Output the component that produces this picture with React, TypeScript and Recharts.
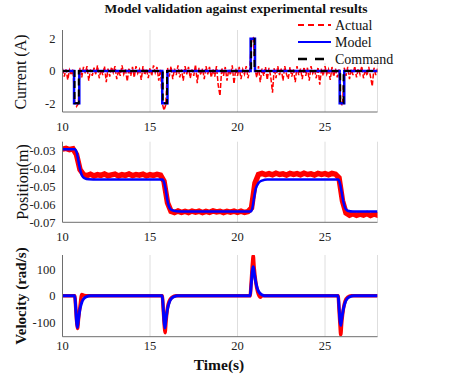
import { LineChart, Line, XAxis, YAxis, CartesianGrid } from "recharts";

const FONT = "'Liberation Serif', 'Times New Roman', serif";

const timeTicks = [10, 15, 20, 25];
const currentTicks = [-2, 0, 2];
const positionTicks = [-0.07, -0.06, -0.05, -0.04, -0.03];
const velocityTicks = [-100, 0, 100];

// measured current, one sample every 0.1 s starting at 10 s
const currentActual = [
  0.15, -0.35, 0.1, -0.55, 0.05, -0.25, 0.1, -1.95, -2.2, -2.05,
  0.2, -0.4, 0.25, -0.15, 0.3, -0.6, 0.1, -0.3, 0.2, -0.2,
  0.35, -0.45, 0.1, -0.25, 0.3, -0.7, 0.15, -0.35, 0.25, -0.1,
  0.3, -0.5, 0.05, -0.3, 0.35, -0.2, 0.1, -0.65, 0.2, -0.3,
  0.25, -0.4, 0.3, -0.15, 0.1, -0.55, 0.3, -0.25, 0.15, -0.45,
  0.2, -0.3, 0.35, -0.1, 0.25, -0.6, 0.1, -2.0, -2.45, -2.1,
  0.2, -0.35, 0.3, -0.5, 0.15, -0.25, 0.35, -0.4, 0.1, -0.6,
  0.3, -0.2, 0.25, -0.45, 0.1, -0.3, 0.4, -0.75, 0.2, -0.25,
  0.15, -0.5, 0.3, -0.2, 0.25, -0.4, 0.1, -0.35, 0.3, -0.9,
  -1.55, 0.2, -0.3, 0.25, -0.6, 0.1, -0.25, 0.35, -0.8, 0.15,
  -0.3, 0.25, -0.5, 0.1, -0.2, 0.3, -0.45, 0.1, 1.95, 2.05,
  0.1, -0.4, 0.3, -0.7, 0.15, -0.3, 0.25, -0.55, 0.2, -0.35,
  -1.35, 0.2, -0.45, 0.3, -0.25, 0.15, -0.6, 0.3, -0.2, -0.5,
  0.25, -0.35, 0.1, -0.7, 0.3, -0.25, 0.15, -0.5, 0.25, -0.3,
  0.2, -0.6, 0.3, -0.15, 0.1, -0.45, 0.25, -0.85, 0.15, -0.3,
  0.3, -0.2, 0.1, -0.55, 0.25, -0.35, 0.15, -0.4, 0.1, -2.0,
  -2.15, 0.2, -0.3, 0.25, -0.5, 0.1, -0.25, 0.3, -0.4, 0.15,
  -0.2, 0.3, -0.45, 0.1, -0.3, 0.25, -0.35, -0.95, 0.2, -0.25,
  0.15, -0.3, 0.1,
];

const currentModel: [number, number][] = [
  [10, 0], [10.66, 0], [10.66, -2], [10.96, -2], [10.96, 0],
  [15.7, 0], [15.7, -2], [16.0, -2], [16.0, 0],
  [20.75, 0], [20.75, 2], [21.0, 2], [21.0, 0],
  [25.84, 0], [25.84, -2], [26.1, -2], [26.1, 0], [28, 0],
];

const currentCommand: [number, number][] = [
  [10, 0], [10.69, 0], [10.69, -2], [10.93, -2], [10.93, 0],
  [15.73, 0], [15.73, -2], [15.97, -2], [15.97, 0],
  [20.78, 0], [20.78, 2], [20.97, 2], [20.97, 0],
  [25.87, 0], [25.87, -2], [26.06, -2], [26.06, 0], [28, 0],
];

// measured position, one sample every 0.2 s starting at 10 s
const positionActual = [
  -0.029, -0.0285, -0.0292, -0.0288, -0.032,
  -0.0405, -0.0432, -0.0438, -0.043, -0.044,
  -0.0433, -0.0437, -0.0429, -0.0439, -0.0434,
  -0.043, -0.044, -0.0433, -0.0437, -0.0429,
  -0.0438, -0.0432, -0.0436, -0.043, -0.0439,
  -0.0433, -0.0437, -0.0431, -0.0436, -0.047,
  -0.059, -0.0638, -0.0645, -0.0637, -0.0644,
  -0.0639, -0.0645, -0.0637, -0.0643, -0.0638,
  -0.0646, -0.0639, -0.0644, -0.0636, -0.0642,
  -0.0638, -0.0645, -0.0639, -0.0643, -0.0637,
  -0.0644, -0.0638, -0.0645, -0.064, -0.062,
  -0.048, -0.0432, -0.0426, -0.0433, -0.0427,
  -0.0434, -0.0425, -0.0432, -0.0428, -0.0435,
  -0.0426, -0.0431, -0.0427, -0.0434, -0.0425,
  -0.0432, -0.0428, -0.0435, -0.0426, -0.0431,
  -0.0427, -0.0434, -0.0426, -0.043, -0.045,
  -0.058, -0.0648, -0.066, -0.0652, -0.0661,
  -0.0654, -0.0659, -0.0651, -0.0662, -0.0653,
  -0.066, -0.0655,
];

const positionModel: [number, number][] = [
  [10, -0.029], [10.7, -0.029], [10.8, -0.0305], [10.9, -0.035], [11.0, -0.04],
  [11.1, -0.0435], [11.25, -0.0452], [11.5, -0.0459], [12, -0.046],
  [15.7, -0.046], [15.8, -0.0475], [15.9, -0.052], [16.0, -0.058], [16.1, -0.0615],
  [16.25, -0.0632], [16.5, -0.0638], [17, -0.064],
  [20.75, -0.064], [20.85, -0.062], [20.95, -0.056], [21.05, -0.051], [21.2, -0.048],
  [21.4, -0.0466], [21.7, -0.046],
  [25.75, -0.046], [25.85, -0.048], [25.95, -0.053], [26.05, -0.0585], [26.15, -0.062],
  [26.3, -0.0635], [26.6, -0.064], [28, -0.064],
];

const velocityActual: [number, number][] = [
  [10, 0], [10.7, 0], [10.76, -50], [10.82, -105], [10.86, -124], [10.92, -85],
  [11.0, -40], [11.1, 5], [11.2, 3], [11.35, 0],
  [15.7, 0], [15.76, -55], [15.82, -115], [15.86, -140], [15.92, -95],
  [16.0, -45], [16.1, -20], [16.25, -6], [16.5, 0],
  [20.72, 0], [20.78, 50], [20.85, 120], [20.9, 152], [20.95, 110],
  [21.05, 50], [21.15, 15], [21.3, -5], [21.4, 0],
  [25.75, 0], [25.8, -50], [25.86, -115], [25.9, -148], [25.96, -100],
  [26.05, -50], [26.15, -20], [26.3, -5], [26.5, 0], [28, 0],
];

const velocityModel: [number, number][] = [
  [10, 0], [10.7, 0], [10.75, -40], [10.8, -95], [10.85, -120], [10.9, -95],
  [11.0, -50], [11.1, -25], [11.2, -12], [11.35, -4], [11.6, 0],
  [15.7, 0], [15.75, -40], [15.8, -95], [15.85, -122], [15.9, -95],
  [16.0, -50], [16.1, -25], [16.2, -12], [16.35, -4], [16.6, 0],
  [20.72, 0], [20.78, 40], [20.85, 95], [20.9, 110], [20.95, 90],
  [21.05, 50], [21.15, 25], [21.25, 12], [21.4, 4], [21.65, 0],
  [25.75, 0], [25.8, -40], [25.85, -90], [25.9, -112], [25.95, -90],
  [26.05, -50], [26.15, -25], [26.25, -12], [26.4, -4], [26.65, 0], [28, 0],
];

const sampled = (vals: number[], start: number, step: number) =>
  vals.map((v, i) => ({ t: +(start + i * step).toFixed(2), v }));
const pairs = (p: [number, number][]) => p.map(([t, v]) => ({ t, v }));

const RED = "#ff0000";
const BLUE = "#0000ff";
const AXIS = "#6e6e6e";
const tickStyle = { fill: "#222", fontSize: 12.5, fontFamily: FONT };

type PanelProps = {
  top: number;
  height: number;
  margin: { top: number; bottom: number };
  domain: [number, number];
  ticks: number[];
  xTickMargin: number;
  fmt?: (v: number) => string;
  children: React.ReactNode;
};

function Panel({ top, height, margin, domain, ticks, xTickMargin, fmt, children }: PanelProps) {
  return (
    <div style={{ position: "absolute", left: 0, top }}>
      <LineChart
        width={474}
        height={height}
        margin={{ top: margin.top, bottom: margin.bottom, left: 22.5, right: 96.5 }}
      >
        <CartesianGrid horizontal={false} stroke="#dedede" />
        <XAxis
          dataKey="t"
          type="number"
          domain={[10, 28]}
          ticks={timeTicks}
          interval={0}
          allowDataOverflow
          height={20}
          tickLine={false}
          tickSize={0}
          tickMargin={xTickMargin}
          stroke={AXIS}
          tick={tickStyle}
        />
        <XAxis
          xAxisId="top"
          orientation="top"
          type="number"
          domain={[10, 28]}
          ticks={timeTicks}
          height={0}
          tick={false}
          tickLine={false}
          stroke={AXIS}
        />
        <YAxis
          type="number"
          domain={domain}
          ticks={ticks}
          interval={0}
          allowDataOverflow
          width={40}
          tickLine={false}
          tickSize={0}
          tickMargin={7}
          stroke={AXIS}
          tick={tickStyle}
          tickFormatter={fmt}
        />
        <YAxis
          yAxisId="right"
          orientation="right"
          type="number"
          domain={domain}
          width={0}
          tick={false}
          tickLine={false}
          stroke={AXIS}
        />
        {children}
      </LineChart>
    </div>
  );
}

export default function App() {
  return (
    <div
      style={{
        position: "absolute",
        left: 0,
        top: 0,
        width: 474,
        height: 379,
        background: "#fff",
        fontFamily: FONT,
      }}
    >
      <Panel top={0} height={140} margin={{ top: 30, bottom: 8 }} domain={[-2.55, 2.55]} ticks={currentTicks} xTickMargin={10}>
        <Line data={sampled(currentActual, 10, 0.1)} dataKey="v" stroke={RED} strokeWidth={1.5} strokeDasharray="5 2" dot={false} isAnimationActive={false} />
        <Line data={pairs(currentModel)} dataKey="v" stroke={BLUE} strokeWidth={2.5} dot={false} isAnimationActive={false} />
        <Line data={pairs(currentCommand)} dataKey="v" stroke="#000" strokeWidth={2} strokeDasharray="7 4" dot={false} isAnimationActive={false} />
      </Panel>
      <Panel top={130} height={120} margin={{ top: 11.7, bottom: 7.7 }} domain={[-0.07, -0.0248]} ticks={positionTicks} xTickMargin={10} fmt={(v) => v.toFixed(2)}>
        <Line data={sampled(positionActual, 10, 0.2)} dataKey="v" stroke={RED} strokeWidth={5.5} dot={false} isAnimationActive={false} />
        <Line data={pairs(positionModel)} dataKey="v" type="monotone" stroke={BLUE} strokeWidth={2.5} dot={false} isAnimationActive={false} />
      </Panel>
      <Panel top={245} height={134} margin={{ top: 10, bottom: 22.3 }} domain={[-155, 155]} ticks={velocityTicks} xTickMargin={4}>
        <Line data={pairs(velocityActual)} dataKey="v" type="monotone" stroke={RED} strokeWidth={3.5} dot={false} isAnimationActive={false} />
        <Line data={pairs(velocityModel)} dataKey="v" type="monotone" stroke={BLUE} strokeWidth={3} dot={false} isAnimationActive={false} />
      </Panel>

      <svg width={474} height={379} style={{ position: "absolute", left: 0, top: 0, pointerEvents: "none" }} fontFamily={FONT}>
        <text x={236} y={13} textAnchor="middle" fontSize={13.5} fontWeight="bold" fill="#111">
          Model validation against experimental results
        </text>
        <rect x={293} y={16} width={110} height={47} fill="#fff" />
        <line x1={298} x2={331} y1={25} y2={25} stroke={RED} strokeWidth={2} strokeDasharray="6 4" />
        <text x={335} y={30} fontSize={14} fill="#111">Actual</text>
        <line x1={298} x2={331} y1={42} y2={42} stroke={BLUE} strokeWidth={2} />
        <text x={335} y={47} fontSize={14} fill="#111">Model</text>
        <line x1={298} x2={331} y1={59} y2={59} stroke="#000" strokeWidth={2.5} strokeDasharray="9 8" />
        <text x={335} y={64} fontSize={14} fill="#111">Command</text>

        <text transform="translate(26 72) rotate(-90)" textAnchor="middle" fontSize={16} fill="#111">Current (A)</text>
        <text transform="translate(28 182) rotate(-90)" textAnchor="middle" fontSize={16} fill="#111">Position(m)</text>
        <text transform="translate(26 296) rotate(-90)" textAnchor="middle" fontSize={15} fontWeight="bold" fill="#111">Velocity (rad/s)</text>
        <text x={219} y={370} textAnchor="middle" fontSize={15.5} fontWeight="bold" fill="#111">Time(s)</text>
      </svg>
    </div>
  );
}
